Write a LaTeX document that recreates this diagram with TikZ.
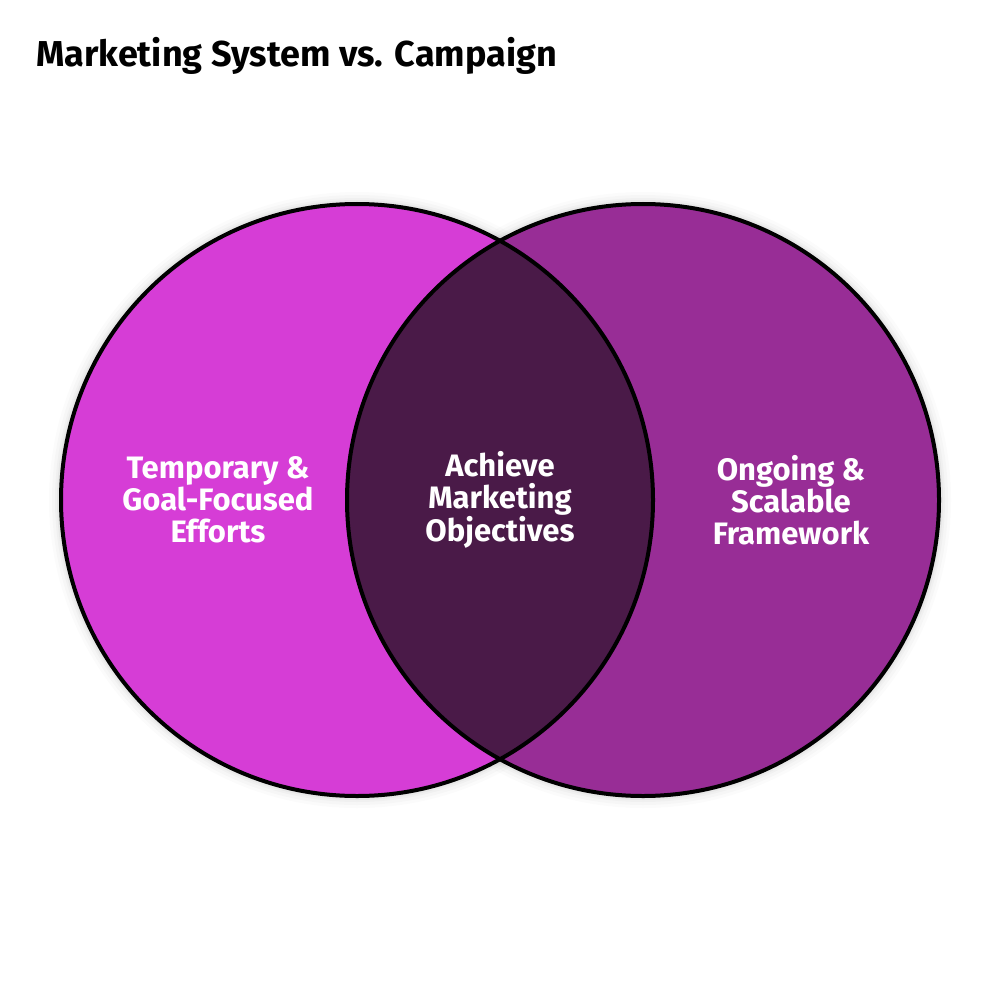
\documentclass[tikz,border=0pt]{standalone}
\usepackage{fontspec}
\setmainfont{Fira Sans}
\definecolor{leftc}{RGB}{214,61,214}
\definecolor{rightc}{RGB}{152,45,150}
\definecolor{midc}{RGB}{74,26,72}
\tikzset{
  lbl/.style={text=white,align=center,font=\fontsize{31}{32}\selectfont\bfseries},
  ring/.style={draw=black,line width=4pt},
}
\begin{document}
\begin{tikzpicture}[x=1pt,y=-1pt]
\useasboundingbox (0,0) rectangle (1000,1000);
\fill[white] (0,0) rectangle (1000,1000);
\coordinate (L) at (357,500);
\coordinate (R) at (643,500);
\foreach \r/\o in {308/0.015,305/0.02,302/0.025,300/0.03}{
  \fill[black,opacity=\o] (L) circle[radius=\r];
  \fill[black,opacity=\o] (R) circle[radius=\r];
}
\fill[rightc] (R) circle[radius=296];
\fill[leftc] (L) circle[radius=296];
\begin{scope}
\clip (L) circle[radius=296];
\fill[midc] (R) circle[radius=296];
\end{scope}
\draw[ring] (L) circle[radius=296];
\draw[ring] (R) circle[radius=296];
\node[anchor=base west,inner sep=0pt,font=\fontsize{36}{40}\selectfont\bfseries] (title) at (36,67) {Marketing System vs. Campaign};
\node[lbl] (tl) at (218,500) {Temporary \&\\Goal-Focused\\Efforts};
\node[lbl] (tm) at (500,500) {Achieve\\Marketing\\Objectives};
\node[lbl] (tr) at (791,500) {Ongoing \&\\Scalable\\Framework};
\end{tikzpicture}
\end{document}
